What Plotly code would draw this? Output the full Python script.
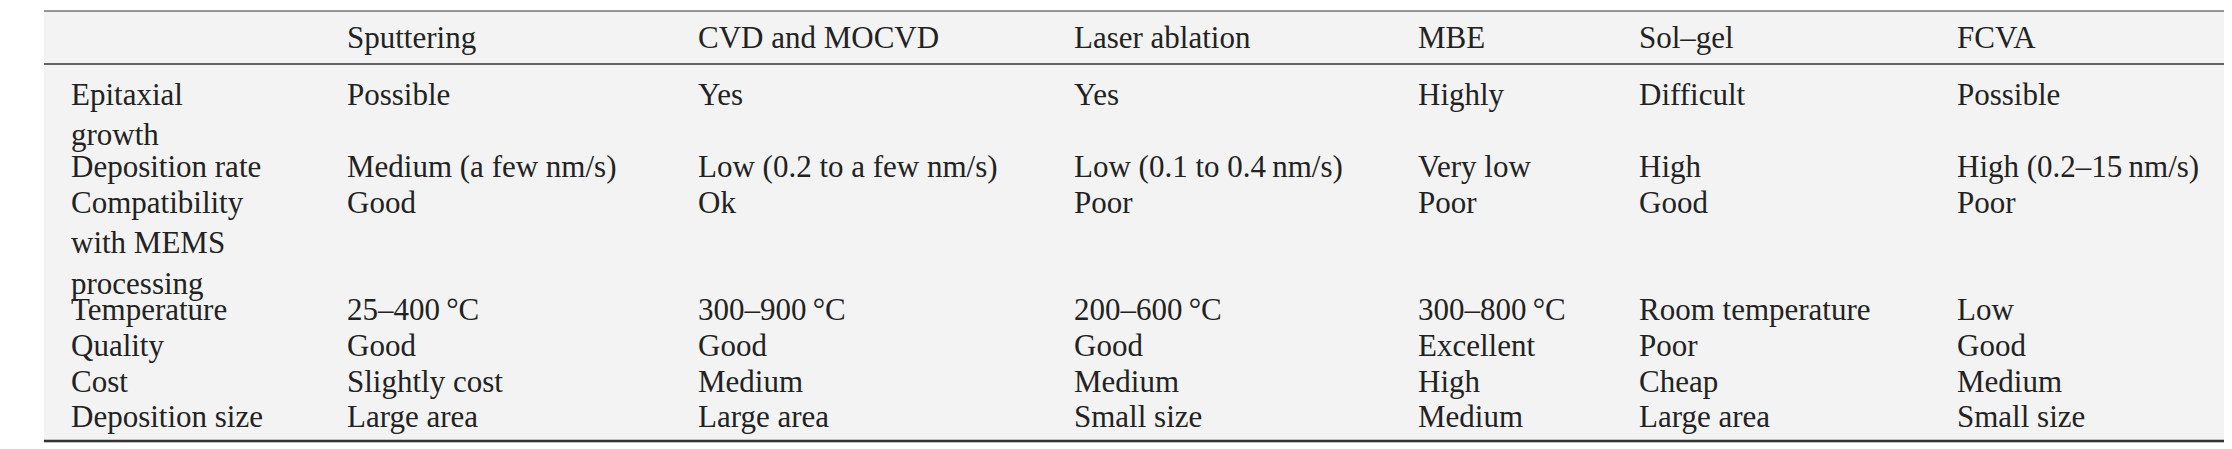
import plotly.graph_objects as go

# table content
headers = ["", "Sputtering", "CVD and MOCVD", "Laser ablation", "MBE", "Sol\u2013gel", "FCVA"]
row_labels = ["Epitaxial<br>growth", "Deposition rate", "Compatibility<br>with MEMS<br>processing",
              "Temperature", "Quality", "Cost", "Deposition size"]
sputtering = ["Possible", "Medium (a few nm/s)", "Good", "25\u2013400\u2009\u00b0C", "Good", "Slightly cost", "Large area"]
cvd = ["Yes", "Low (0.2 to a few nm/s)", "Ok", "300\u2013900\u2009\u00b0C", "Good", "Medium", "Large area"]
laser = ["Yes", "Low (0.1 to 0.4\u2009nm/s)", "Poor", "200\u2013600\u2009\u00b0C", "Good", "Medium", "Small size"]
mbe = ["Highly", "Very low", "Poor", "300\u2013800\u2009\u00b0C", "Excellent", "High", "Medium"]
solgel = ["Difficult", "High", "Good", "Room temperature", "Poor", "Cheap", "Large area"]
fcva = ["Possible", "High (0.2\u201315\u2009nm/s)", "Poor", "Low", "Good", "Medium", "Small size"]
row_lines = [2, 1, 3, 1, 1, 1, 1]

columns = [row_labels, sputtering, cvd, laser, mbe, solgel, fcva]
off = 8  # page body margin
col_x = [69 - off, 345 - off, 696 - off, 1072 - off, 1416 - off, 1637 - off, 1955 - off]
W, H = 2232, 449
line_h = 35.8
first_y = 93 - off
font = dict(family="Liberation Serif", size=31, color="#222")

fig = go.Figure()
fig.add_shape(type="rect", x0=44 - off, x1=2224 - off, y0=11 - off, y1=443 - off,
              fillcolor="#f3f3f3", line_width=0, layer="below")
for y0, w in [(11, 1.2), (64, 1.5), (441, 2.5)]:
    fig.add_shape(type="line", x0=44 - off, x1=2224 - off, y0=y0 - off, y1=y0 - off, line=dict(color="#333", width=w))

ann = []
for x, h in zip(col_x, headers):
    ann.append(dict(x=x, y=37 - off, text=h, xanchor="left", yanchor="middle", showarrow=False, font=font))
for x, col in zip(col_x, columns):
    idx = 0
    for val, n in zip(col, row_lines):
        ann.append(dict(x=x, y=first_y + idx * line_h - line_h / 2, text=val, xanchor="left", yanchor="top",
                        align="left", showarrow=False, font=font))
        idx += n

fig.update_layout(
    width=W, height=H, margin=dict(l=0, r=0, t=0, b=0),
    paper_bgcolor="white", plot_bgcolor="white",
    xaxis=dict(range=[0, W], visible=False, fixedrange=True),
    yaxis=dict(range=[H, 0], visible=False, fixedrange=True),
    annotations=ann, showlegend=False,
)
fig.write_html("out.html")
